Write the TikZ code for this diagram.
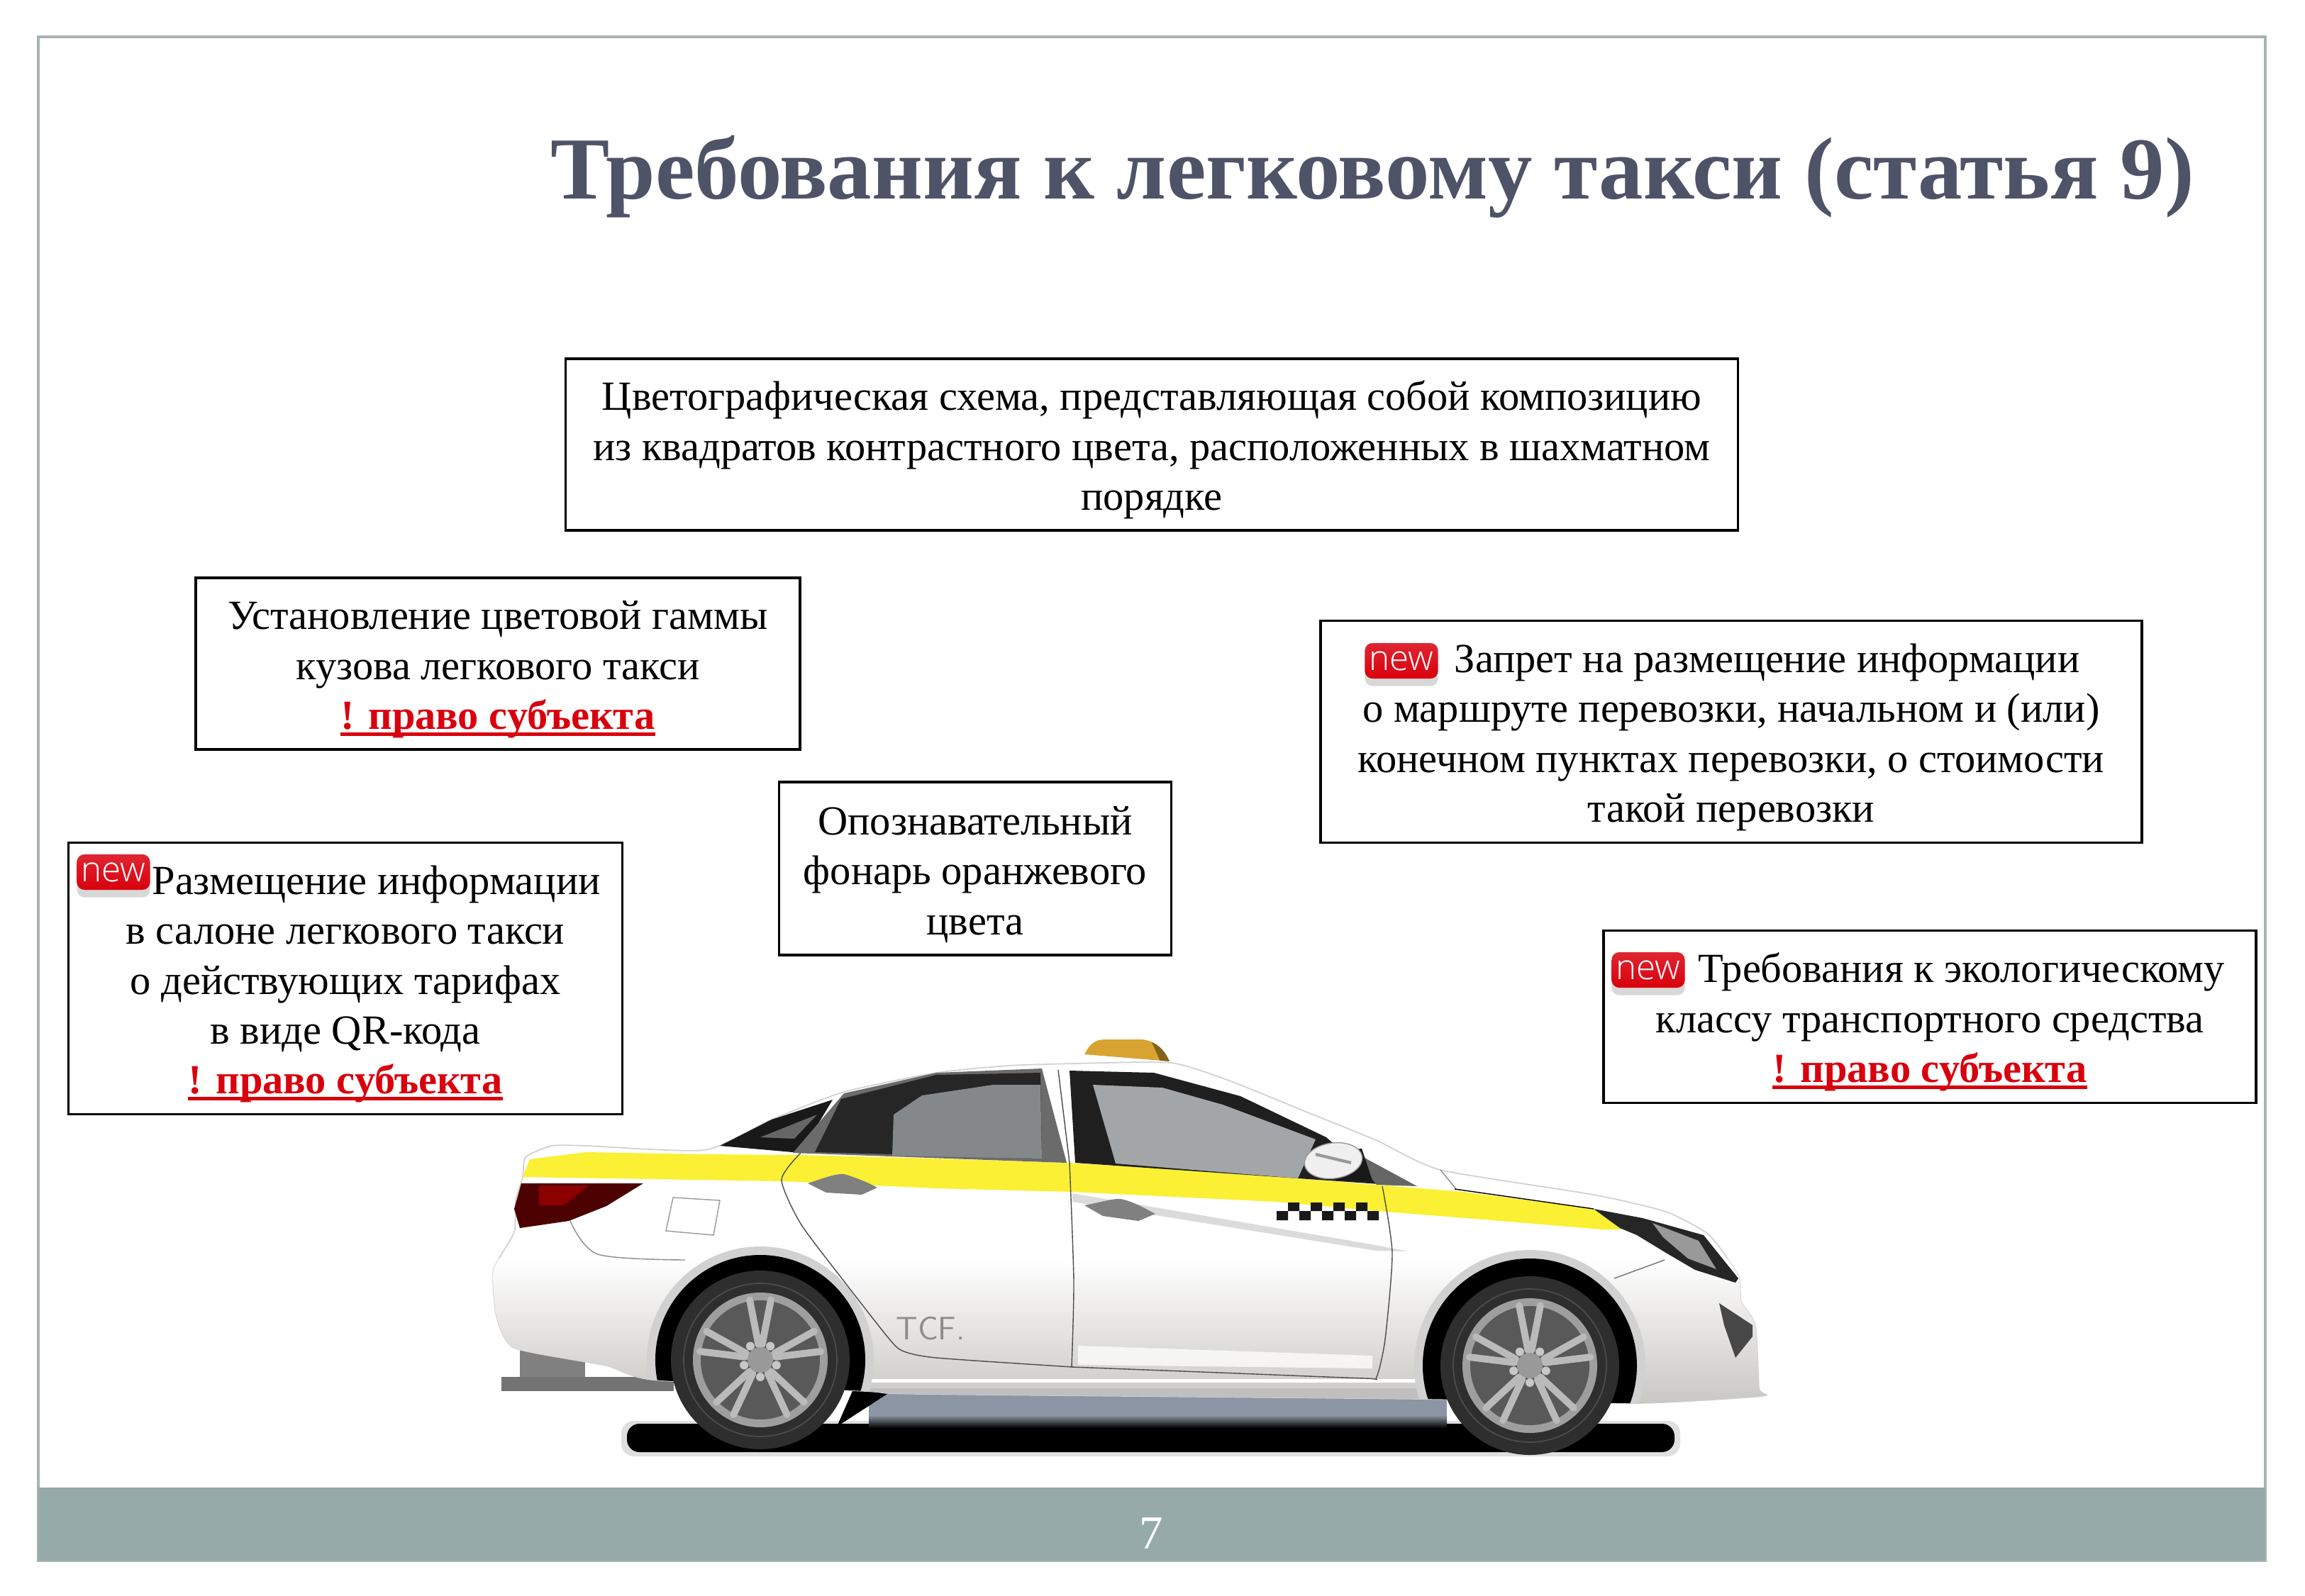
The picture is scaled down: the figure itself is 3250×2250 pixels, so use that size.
\documentclass[tikz,border=0pt]{standalone}
\usepackage{fontspec}
\setmainfont{Liberation Serif}
\newfontfamily\badgefont{Open Sans Light}
\usetikzlibrary{shadows}
\definecolor{txblack}{HTML}{000000}
\definecolor{txtitle}{HTML}{4F5368}
\definecolor{txred}{HTML}{D9000D}
\definecolor{txband}{HTML}{95AAA9}
\definecolor{txframe}{HTML}{A8B3B3}
\definecolor{txyellow}{HTML}{FBF033}
\definecolor{txshade}{HTML}{C8C6C3}
\definecolor{txlight}{HTML}{E0DFDD}
\definecolor{txglass}{HTML}{85888B}
\definecolor{txgold}{HTML}{D9A331}
\definecolor{txroad}{HTML}{8C95A3}
\newcommand{\firstrow}{\rule{0pt}{16.1pt}}
\newcommand{\subjectright}{\textcolor{txred}{\bfseries\setbox0\hbox{! право субъекта}\rlap{\rule[-2.6pt]{\wd0}{1.3pt}}\box0}}
\newcommand{\taxibody}{plot[smooth cycle, tension=0.35] coordinates {(741,1632) (778,1616) (827,1616) (994,1622) (1088,1579) (1190,1540) (1320,1513) (1422,1503) (1516,1500) (1651,1499) (1733,1524) (1839,1567) (1940,1608) (2031,1650) (2247,1685) (2349,1709) (2410,1742) (2451,1799) (2455,1836) (2475,1869) (2480,1958) (2484,1969) (2308,1979) (2004,1973) (1300,1966) (1221,1962) (921,1946) (855,1926) (725,1901) (700,1856) (696,1791) (725,1738) (727,1693) (737,1660)}}

\begin{document}
\begin{tikzpicture}[x=0.01cm, y=-0.01cm,
  every node/.style={font=\fontsize{16.62}{20}\selectfont},
  infobox/.style={rectangle, draw=txblack, line width=1pt, fill=white, align=center, inner sep=0pt},
  newbadge/.style={rectangle, rounded corners=3pt, top color=txred!85, bottom color=txred, minimum width=1.03cm, minimum height=0.5cm, inner sep=0pt, text=white, font=\badgefont\fontsize{14}{15}\selectfont, drop shadow={shadow xshift=0pt, shadow yshift=-3pt, opacity=0.3}},
  seam/.style={draw=black!70, line width=0.4pt},
  taxiwheel/.pic={
    \fill[black!82] (0,0) circle (126);
    \draw[black!70, line width=0.5pt] (0,0) circle (108);
    \fill[black!38] (0,0) circle (95);
    \fill[black!65] (0,0) circle (84);
    \foreach \a in {18,90,162,234,306} {
      \draw[black!27, line width=2.8pt, line cap=round] (\a+180-7:22) -- (\a+180-10:86);
      \draw[black!27, line width=2.8pt, line cap=round] (\a+180+7:22) -- (\a+180+10:86);
      \fill[black!22] (\a:24) circle (6);
    }
    \fill[black!40] (0,0) circle (18);
  },
]
\useasboundingbox (0,0) rectangle (3250,2250);

% Slide frame
\draw[txframe, line width=0.9pt] (54,52) rectangle (3194,2201);
\fill[txband] (54,2098) rectangle (3194,2201);
\node[text=white, font=\fontsize{19}{20}\selectfont] (pagenum) at (1623,2163) {7};

% Title
\node[text=txtitle, anchor=base, font=\fontsize{35.5}{38}\selectfont\bfseries] (title) at (1935,280) {Требования к легковому такси (статья 9)};

% Ground shadow and road
\fill[black!25, opacity=0.5, rounded corners=5pt] (876,2004) rectangle (2369,2054);
\fill[black, rounded corners=5pt] (884,2008) rectangle (2361,2048);
\fill[txroad] (1225,1964) rectangle (2040,1996);
\shade[top color=txroad, bottom color=black] (1225,1996) rectangle (2040,2014);
\fill[black] (1205,1955) -- (1251,1966) -- (1180,2012) -- cycle;

% Rear rail
\fill[black!55] (707,1942) rectangle (950,1962);
\fill[black!50] (733,1905) rectangle (825,1942);

% Roof lamp
\fill[txgold] (1529,1487) .. controls (1538,1470) and (1545,1466) .. (1560,1466) -- (1610,1466) .. controls (1630,1468) and (1642,1480) .. (1649,1497) -- cycle;
\fill[txgold!60!black] (1624,1470) .. controls (1635,1475) and (1642,1482) .. (1649,1497) -- (1636,1497) -- cycle;
\fill[white] (1516,1500) -- (1522,1487) -- (1649,1497) -- (1651,1505) -- cycle;

% Body
\fill[white, draw=black!18, line width=0.5pt] \taxibody;
\begin{scope}
  \clip \taxibody;
  \shade[top color=white, middle color=txlight, bottom color=txshade] (690,1775) rectangle (2500,1985);
  \fill[white, opacity=0.75] (1520,1898) -- (1935,1912) -- (1935,1930) -- (1520,1925) -- cycle;
  \fill[black!40, opacity=0.35] (1512,1683) -- (1940,1756) -- (1985,1765) -- (1940,1764) -- (1512,1695) -- cycle;
  \fill[white] (1225,1945) rectangle (2010,1950);
  \fill[black!25] (1225,1958) rectangle (2010,1980);
  % Wheel arches
  \fill[black!18] (1072,1918) circle (160);
  \fill[black!18] (2157,1926) circle (163);
  \fill[black] (1072,1918) circle (148);
  \fill[black] (2157,1926) circle (151);
\end{scope}

% Yellow stripe
\fill[txyellow] (747,1635) -- (827,1625) -- (994,1628) -- (1129,1629) -- (1320,1634) -- (1504,1640) -- (1708,1652) -- (1941,1671) -- (2063,1681) -- (2247,1705) -- (2288,1734) -- (2259,1734) -- (2092,1720) -- (1953,1709) -- (1800,1695) -- (1512,1681) -- (1320,1676) -- (1104,1666) -- (737,1660) -- cycle;

% Windows
\fill[black!90] (1015,1616) -- (1088,1579) -- (1174,1551) -- (1129,1626) -- cycle;
\fill[black!60] (1072,1604) -- (1152,1572) -- (1120,1606) -- cycle;
\fill[black!58] (1118,1626) -- (1190,1542) -- (1320,1513) -- (1469,1507) -- (1504,1640) -- cycle;
\fill[black!85] (1186,1550) -- (1320,1516) -- (1467,1513) -- (1469,1634) -- (1149,1625) -- cycle;
\fill[txglass] (1260,1572) -- (1300,1545) -- (1400,1530) -- (1467,1530) -- (1469,1634) -- (1258,1630) -- cycle;
\fill[black!88] (1508,1510) -- (1627,1513) -- (1749,1546) -- (1870,1604) -- (1945,1670) -- (1516,1640) -- cycle;
\fill[txglass!75] (1541,1530) -- (1639,1534) -- (1724,1558) -- (1855,1607) -- (1830,1662) -- (1573,1641) -- cycle;
\fill[black!60] (1900,1620) -- (1998,1673) -- (1941,1671) -- cycle;
\draw[seam] (1492,1509) -- (1508,1640);

% Mirror
\fill[black!90] (1870,1625) -- (1920,1620) -- (1935,1665) -- (1885,1665) -- cycle;
\fill[black!6, draw=black!40, line width=0.4pt, rotate around={8:(1880,1637)}] (1880,1637) ellipse (41 and 25);
\draw[black!40, line width=1.2pt] (1855,1628) -- (1905,1640);

% Taillight
\fill[red!30!black] (735,1669) -- (907,1669) -- (855,1701) -- (802,1722) -- (733,1732) -- (725,1705) -- cycle;
\fill[red!55!black] (760,1672) -- (830,1672) -- (795,1700) -- (760,1700) -- cycle;

% Door seams
\draw[seam] plot[smooth, tension=0.4] coordinates {(1129,1626) (1102,1664) (1129,1726) (1190,1807) (1251,1885) (1272,1905) (1320,1915) (1512,1928)};
\draw[seam] plot[smooth, tension=0.4] coordinates {(1508,1640) (1514,1807) (1511,1928)};
\draw[seam] plot[smooth, tension=0.4] coordinates {(1511,1928) (1720,1936) (1925,1944) (1941,1942) (1953,1889) (1963,1767) (1949,1673)};
\draw[seam, black!40] (949,1689) -- (1015,1693) -- (1006,1742) -- (939,1736) -- cycle;
\draw[seam, black!45] plot[smooth, tension=0.5] coordinates {(804,1722) (843,1769) (966,1777)};
\draw[seam, black!45] (2031,1650) -- (2053,1677);
\draw[seam, black] (2051,1677) -- (2247,1705);
\draw[seam, black!55] (2276,1803) -- (2347,1777);

% Door handles
\fill[black!50] (1139,1669) .. controls (1165,1660) and (1180,1655) .. (1190,1656) .. controls (1205,1660) and (1225,1668) .. (1237,1675) -- (1215,1685) -- (1165,1682) -- cycle;
\fill[black!50] (1529,1700) .. controls (1555,1695) and (1570,1690) .. (1580,1691) .. controls (1600,1695) and (1615,1705) .. (1629,1712) -- (1605,1722) -- (1555,1715) -- cycle;

% Checker mark
\fill[black!90] (1800,1708) rectangle (1816,1721) (1832,1708) rectangle (1848,1721) (1864,1708) rectangle (1880,1721) (1896,1708) rectangle (1912,1721) (1928,1708) rectangle (1944,1721) (1816,1696) rectangle (1832,1708) (1848,1696) rectangle (1864,1708) (1880,1696) rectangle (1896,1708) (1912,1696) rectangle (1928,1708);

% Lettering on the door
\node[text=black!45, font=\fontsize{13}{14}\sffamily] (badgetext) at (1312,1874) {TCF.};

% Headlight and grille
\fill[black!85] (2247,1705) -- (2316,1718) -- (2402,1742) -- (2451,1803) -- (2447,1809) -- (2390,1791) -- (2349,1767) -- (2308,1742) -- (2284,1732) -- cycle;
\fill[black!40] (2330,1725) -- (2395,1750) -- (2420,1790) -- (2380,1775) -- (2345,1745) -- cycle;
\fill[black!72] (2424,1838) -- (2471,1869) -- (2471,1885) -- (2447,1915) -- (2431,1869) -- cycle;

% Wheels
\pic at (1072,1918) {taxiwheel};
\pic at (2157,1926) {taxiwheel};

% Requirement boxes
\node[infobox, minimum width=16.52cm, minimum height=2.42cm] (schemebox) at (1624,627) {\firstrow Цветографическая схема, представляющая собой композицию\\из квадратов контрастного цвета, расположенных в шахматном\\порядке};
\node[infobox, minimum width=8.52cm, minimum height=2.42cm] (colourbox) at (702,936) {\firstrow Установление цветовой гаммы\\кузова легкового такси\\\subjectright};
\node[infobox, minimum width=5.53cm, minimum height=2.44cm] (lampbox) at (1375,1225) {\firstrow Опознавательный\\фонарь оранжевого\\цвета};
\node[infobox, minimum width=7.81cm, minimum height=3.83cm] (tariffbox) at (487,1380) {\firstrow\hspace*{0.87cm}Размещение информации\\в салоне легкового такси\\о действующих тарифах\\в виде QR-кода\\\subjectright};
\node[infobox, minimum width=11.57cm, minimum height=3.13cm] (routebox) at (2441,1032) {\firstrow\hspace*{1.01cm}Запрет на размещение информации\\о маршруте перевозки, начальном и (или)\\конечном пунктах перевозки, о стоимости\\такой перевозки};
\node[infobox, minimum width=9.19cm, minimum height=2.43cm] (ecobox) at (2721,1434) {\firstrow\hspace*{0.89cm}Требования к экологическому\\классу транспортного средства\\\subjectright};

% New badges
\node[newbadge] (newtariff) at (160,1230) {new};
\node[newbadge] (newroute) at (1976,932) {new};
\node[newbadge] (neweco) at (2324,1368) {new};

\end{tikzpicture}
\end{document}
